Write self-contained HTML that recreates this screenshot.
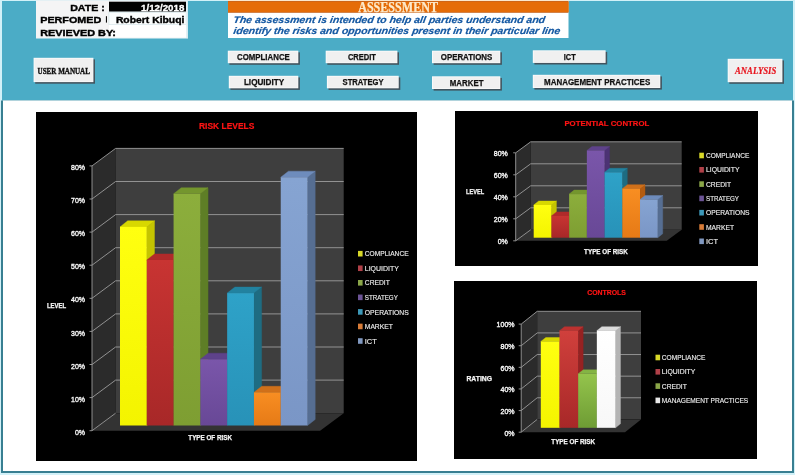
<!DOCTYPE html>
<html><head><meta charset="utf-8"><title>Risk Assessment Dashboard</title>
<style>html,body{margin:0;padding:0;background:#d2f1f8;overflow:hidden}svg{display:block;will-change:transform}</style>
</head><body>
<svg width="795" height="475" viewBox="0 0 795 475">
<rect x="0" y="0" width="795" height="475" fill="#d2f1f8"/>
<rect x="2" y="1" width="791" height="99.5" fill="#4bacc6"/>
<rect x="1" y="100.5" width="793" height="372.5" fill="#387f92"/>
<rect x="3" y="100.5" width="789" height="370.5" fill="#ffffff"/>
<rect x="36" y="0" width="152" height="38.6" fill="#d4ecf2"/>
<rect x="36" y="0.5" width="150.5" height="37.4" fill="#f4f4f5"/>
<rect x="109" y="1.7" width="77" height="10" fill="#000000"/>
<rect x="108.5" y="11.7" width="77.5" height="13.2" fill="#d6e6ea"/>
<rect x="109.3" y="12.6" width="76.5" height="11.6" fill="#fbfdfd"/>
<rect x="109" y="24.9" width="77" height="12.6" fill="#ffffff"/>
<text x="70.2" y="10.9" font-family='"Liberation Sans", sans-serif' font-size="9.5" font-weight="bold" font-style="normal" fill="#000" text-anchor="start" textLength="34.5" lengthAdjust="spacingAndGlyphs" stroke="#000" stroke-width="0.4">DATE :</text>
<text x="184.4" y="10.9" font-family='"Liberation Sans", sans-serif' font-size="9.5" font-weight="bold" font-style="normal" fill="#ffffff" text-anchor="end" textLength="43.4" lengthAdjust="spacingAndGlyphs" stroke="#ffffff" stroke-width="0.3">1/12/2018</text>
<text x="40.2" y="22.8" font-family='"Liberation Sans", sans-serif' font-size="9.5" font-weight="bold" font-style="normal" fill="#000" text-anchor="start" textLength="61.1" lengthAdjust="spacingAndGlyphs" stroke="#000" stroke-width="0.4">PERFOMED</text>
<rect x="105.9" y="16.2" width="1.1" height="6.4" fill="#111"/>
<text x="184.4" y="22.6" font-family='"Liberation Sans", sans-serif' font-size="9.5" font-weight="bold" font-style="normal" fill="#000" text-anchor="end" textLength="68.5" lengthAdjust="spacingAndGlyphs" stroke="#000" stroke-width="0.4">Robert Kibuqi</text>
<text x="40.2" y="35.8" font-family='"Liberation Sans", sans-serif' font-size="9.5" font-weight="bold" font-style="normal" fill="#000" text-anchor="start" textLength="75.8" lengthAdjust="spacingAndGlyphs" stroke="#000" stroke-width="0.4">REVIEVED BY:</text>
<rect x="228" y="0" width="340.5" height="1.2" fill="#fbe2c2"/>
<rect x="228" y="0.8" width="340.5" height="37.2" fill="#ffffff"/>
<rect x="228" y="1" width="340.5" height="11.8" fill="#c8641c"/>
<rect x="228" y="1.8" width="340.5" height="10.2" fill="#e56c08"/>
<text x="358.2" y="11.7" font-family='"Liberation Serif", serif' font-size="13.6" font-weight="bold" font-style="normal" fill="#fdeacb" text-anchor="start" textLength="79.8" lengthAdjust="spacingAndGlyphs" stroke="#fdeacb" stroke-width="0.25">ASSESSMENT</text>
<g transform="translate(0,23.3) skewX(-9) translate(0,-23.3)">
<text x="233.0" y="23.3" font-family='"Liberation Sans", sans-serif' font-size="9.6" font-weight="bold" font-style="italic" fill="#1559a3" text-anchor="start" textLength="311.8" lengthAdjust="spacingAndGlyphs" stroke="#1559a3" stroke-width="0.2">The assessment is intended to help all parties understand and</text>
</g>
<g transform="translate(0,34) skewX(-9) translate(0,-34)">
<text x="233.1" y="34" font-family='"Liberation Sans", sans-serif' font-size="9.6" font-weight="bold" font-style="italic" fill="#1559a3" text-anchor="start" textLength="326.7" lengthAdjust="spacingAndGlyphs" stroke="#1559a3" stroke-width="0.2">identify the risks and opportunities present in their particular line</text>
</g>
<rect x="35.2" y="59.4" width="59.8" height="24.300000000000004" fill="#42545e"/>
<rect x="33.6" y="57.8" width="59.8" height="24.300000000000004" fill="#fafafa"/>
<rect x="34.5" y="58.699999999999996" width="58.199999999999996" height="22.700000000000006" fill="#f0f0f0"/>
<text x="37.6" y="74" font-family='"Liberation Serif", serif' font-size="8" font-weight="bold" font-style="normal" fill="#111" text-anchor="start" textLength="52.3" lengthAdjust="spacingAndGlyphs" stroke="#111" stroke-width="0.35">USER MANUAL</text>
<rect x="229.4" y="52.300000000000004" width="70.49999999999997" height="12.499999999999995" fill="#42545e"/>
<rect x="227.8" y="50.7" width="70.49999999999997" height="12.499999999999995" fill="#fafafa"/>
<rect x="228.70000000000002" y="51.6" width="68.89999999999996" height="10.899999999999995" fill="#f0f0f0"/>
<text x="237" y="59.8" font-family='"Liberation Sans", sans-serif' font-size="8.6" font-weight="bold" font-style="normal" fill="#111" text-anchor="start" textLength="52.8" lengthAdjust="spacingAndGlyphs" stroke="#111" stroke-width="0.25">COMPLIANCE</text>
<rect x="327.3" y="52.300000000000004" width="71.70000000000002" height="12.499999999999995" fill="#42545e"/>
<rect x="325.7" y="50.7" width="71.70000000000002" height="12.499999999999995" fill="#fafafa"/>
<rect x="326.59999999999997" y="51.6" width="70.10000000000001" height="10.899999999999995" fill="#f0f0f0"/>
<text x="347.9" y="59.8" font-family='"Liberation Sans", sans-serif' font-size="8.6" font-weight="bold" font-style="normal" fill="#111" text-anchor="start" textLength="28.1" lengthAdjust="spacingAndGlyphs" stroke="#111" stroke-width="0.25">CREDIT</text>
<rect x="433.6" y="52.300000000000004" width="68.29999999999998" height="12.499999999999995" fill="#42545e"/>
<rect x="432" y="50.7" width="68.29999999999998" height="12.499999999999995" fill="#fafafa"/>
<rect x="432.9" y="51.6" width="66.69999999999997" height="10.899999999999995" fill="#f0f0f0"/>
<text x="440.8" y="59.8" font-family='"Liberation Sans", sans-serif' font-size="8.6" font-weight="bold" font-style="normal" fill="#111" text-anchor="start" textLength="51.5" lengthAdjust="spacingAndGlyphs" stroke="#111" stroke-width="0.25">OPERATIONS</text>
<rect x="534.4" y="51.9" width="72.79999999999998" height="12.600000000000003" fill="#42545e"/>
<rect x="532.8" y="50.3" width="72.79999999999998" height="12.600000000000003" fill="#fafafa"/>
<rect x="533.6999999999999" y="51.199999999999996" width="71.19999999999997" height="11.000000000000004" fill="#f0f0f0"/>
<text x="563.8" y="59.6" font-family='"Liberation Sans", sans-serif' font-size="8.6" font-weight="bold" font-style="normal" fill="#111" text-anchor="start" textLength="11.9" lengthAdjust="spacingAndGlyphs" stroke="#111" stroke-width="0.25">ICT</text>
<rect x="230.4" y="77.39999999999999" width="69.49999999999997" height="12.499999999999995" fill="#42545e"/>
<rect x="228.8" y="75.8" width="69.49999999999997" height="12.499999999999995" fill="#fafafa"/>
<rect x="229.70000000000002" y="76.7" width="67.89999999999996" height="10.899999999999995" fill="#f0f0f0"/>
<text x="243.9" y="85" font-family='"Liberation Sans", sans-serif' font-size="8.6" font-weight="bold" font-style="normal" fill="#111" text-anchor="start" textLength="40.3" lengthAdjust="spacingAndGlyphs" stroke="#111" stroke-width="0.25">LIQUIDITY</text>
<rect x="328.5" y="77.39999999999999" width="71.79999999999998" height="12.499999999999995" fill="#42545e"/>
<rect x="326.9" y="75.8" width="71.79999999999998" height="12.499999999999995" fill="#fafafa"/>
<rect x="327.79999999999995" y="76.7" width="70.19999999999997" height="10.899999999999995" fill="#f0f0f0"/>
<text x="342.6" y="85" font-family='"Liberation Sans", sans-serif' font-size="8.6" font-weight="bold" font-style="normal" fill="#111" text-anchor="start" textLength="40.9" lengthAdjust="spacingAndGlyphs" stroke="#111" stroke-width="0.25">STRATEGY</text>
<rect x="433.6" y="77.89999999999999" width="68.29999999999998" height="12.699999999999998" fill="#42545e"/>
<rect x="432" y="76.3" width="68.29999999999998" height="12.699999999999998" fill="#fafafa"/>
<rect x="432.9" y="77.2" width="66.69999999999997" height="11.099999999999998" fill="#f0f0f0"/>
<text x="449.8" y="85.8" font-family='"Liberation Sans", sans-serif' font-size="8.6" font-weight="bold" font-style="normal" fill="#111" text-anchor="start" textLength="33.7" lengthAdjust="spacingAndGlyphs" stroke="#111" stroke-width="0.25">MARKET</text>
<rect x="534.4" y="76.39999999999999" width="127.50000000000003" height="13.199999999999998" fill="#42545e"/>
<rect x="532.8" y="74.8" width="127.50000000000003" height="13.199999999999998" fill="#fafafa"/>
<rect x="533.6999999999999" y="75.7" width="125.90000000000002" height="11.599999999999998" fill="#f0f0f0"/>
<text x="544" y="84.6" font-family='"Liberation Sans", sans-serif' font-size="8.6" font-weight="bold" font-style="normal" fill="#111" text-anchor="start" textLength="106.2" lengthAdjust="spacingAndGlyphs" stroke="#111" stroke-width="0.25">MANAGEMENT PRACTICES</text>
<rect x="729.3000000000001" y="60.4" width="54.69999999999995" height="23.4" fill="#42545e"/>
<rect x="727.7" y="58.8" width="54.69999999999995" height="23.4" fill="#fafafa"/>
<rect x="728.6" y="59.699999999999996" width="53.09999999999995" height="21.8" fill="#f0f0f0"/>
<text x="735" y="73.8" font-family='"Liberation Serif", serif' font-size="10" font-weight="bold" font-style="italic" fill="#e8141e" text-anchor="start" textLength="41.3" lengthAdjust="spacingAndGlyphs" stroke="#e8141e" stroke-width="0.2">ANALYSIS</text>
<defs><linearGradient id="g_yellow" x1="0" y1="0" x2="0" y2="1"><stop offset="0" stop-color="#ffff10"/><stop offset="1" stop-color="#f4f400"/></linearGradient><linearGradient id="g_red" x1="0" y1="0" x2="0" y2="1"><stop offset="0" stop-color="#c83432"/><stop offset="1" stop-color="#a82828"/></linearGradient><linearGradient id="g_green" x1="0" y1="0" x2="0" y2="1"><stop offset="0" stop-color="#8cae3c"/><stop offset="1" stop-color="#7e9e32"/></linearGradient><linearGradient id="g_purple" x1="0" y1="0" x2="0" y2="1"><stop offset="0" stop-color="#7a56aa"/><stop offset="1" stop-color="#684896"/></linearGradient><linearGradient id="g_blue" x1="0" y1="0" x2="0" y2="1"><stop offset="0" stop-color="#2ea2c8"/><stop offset="1" stop-color="#2892b8"/></linearGradient><linearGradient id="g_orange" x1="0" y1="0" x2="0" y2="1"><stop offset="0" stop-color="#f88e22"/><stop offset="1" stop-color="#e67a16"/></linearGradient><linearGradient id="g_lblue" x1="0" y1="0" x2="0" y2="1"><stop offset="0" stop-color="#86a4d2"/><stop offset="1" stop-color="#7a96c6"/></linearGradient><linearGradient id="g_white" x1="0" y1="0" x2="0" y2="1"><stop offset="0" stop-color="#ffffff"/><stop offset="1" stop-color="#f8f8f8"/></linearGradient><linearGradient id="g_red2" x1="0" y1="0" x2="0" y2="1"><stop offset="0" stop-color="#d0403c"/><stop offset="1" stop-color="#a82828"/></linearGradient><linearGradient id="g_green2" x1="0" y1="0" x2="0" y2="1"><stop offset="0" stop-color="#94c44c"/><stop offset="1" stop-color="#6e9c34"/></linearGradient></defs>
<rect x="36" y="112" width="381" height="349" fill="#000000"/>
<polygon points="92.00,165.90 115.60,148.40 115.60,413.20 92.00,430.70" fill="#2b2b2b"/>
<rect x="115.6" y="148.39999999999998" width="228.1" height="264.8" fill="#3e3e3e"/>
<polygon points="92.00,430.70 320.10,430.70 343.70,413.20 115.60,413.20" fill="#333333"/>
<line x1="115.60" y1="148.40" x2="343.70" y2="148.40" stroke="#9c9c9c" stroke-width="0.9"/>
<line x1="92.00" y1="165.90" x2="115.60" y2="148.40" stroke="#9c9c9c" stroke-width="0.9"/>
<line x1="115.60" y1="181.50" x2="343.70" y2="181.50" stroke="#9c9c9c" stroke-width="0.9"/>
<line x1="92.00" y1="199.00" x2="115.60" y2="181.50" stroke="#9c9c9c" stroke-width="0.9"/>
<line x1="115.60" y1="214.60" x2="343.70" y2="214.60" stroke="#9c9c9c" stroke-width="0.9"/>
<line x1="92.00" y1="232.10" x2="115.60" y2="214.60" stroke="#9c9c9c" stroke-width="0.9"/>
<line x1="115.60" y1="247.70" x2="343.70" y2="247.70" stroke="#9c9c9c" stroke-width="0.9"/>
<line x1="92.00" y1="265.20" x2="115.60" y2="247.70" stroke="#9c9c9c" stroke-width="0.9"/>
<line x1="115.60" y1="280.80" x2="343.70" y2="280.80" stroke="#9c9c9c" stroke-width="0.9"/>
<line x1="92.00" y1="298.30" x2="115.60" y2="280.80" stroke="#9c9c9c" stroke-width="0.9"/>
<line x1="115.60" y1="313.90" x2="343.70" y2="313.90" stroke="#9c9c9c" stroke-width="0.9"/>
<line x1="92.00" y1="331.40" x2="115.60" y2="313.90" stroke="#9c9c9c" stroke-width="0.9"/>
<line x1="115.60" y1="347.00" x2="343.70" y2="347.00" stroke="#9c9c9c" stroke-width="0.9"/>
<line x1="92.00" y1="364.50" x2="115.60" y2="347.00" stroke="#9c9c9c" stroke-width="0.9"/>
<line x1="115.60" y1="380.10" x2="343.70" y2="380.10" stroke="#9c9c9c" stroke-width="0.9"/>
<line x1="92.00" y1="397.60" x2="115.60" y2="380.10" stroke="#9c9c9c" stroke-width="0.9"/>
<line x1="92.00" y1="430.70" x2="115.60" y2="413.20" stroke="#9c9c9c" stroke-width="0.9"/>
<line x1="92.00" y1="165.90" x2="92.00" y2="430.70" stroke="#9c9c9c" stroke-width="0.9"/>
<line x1="89.50" y1="165.90" x2="92.00" y2="165.90" stroke="#9c9c9c" stroke-width="0.9"/>
<line x1="89.50" y1="199.00" x2="92.00" y2="199.00" stroke="#9c9c9c" stroke-width="0.9"/>
<line x1="89.50" y1="232.10" x2="92.00" y2="232.10" stroke="#9c9c9c" stroke-width="0.9"/>
<line x1="89.50" y1="265.20" x2="92.00" y2="265.20" stroke="#9c9c9c" stroke-width="0.9"/>
<line x1="89.50" y1="298.30" x2="92.00" y2="298.30" stroke="#9c9c9c" stroke-width="0.9"/>
<line x1="89.50" y1="331.40" x2="92.00" y2="331.40" stroke="#9c9c9c" stroke-width="0.9"/>
<line x1="89.50" y1="364.50" x2="92.00" y2="364.50" stroke="#9c9c9c" stroke-width="0.9"/>
<line x1="89.50" y1="397.60" x2="92.00" y2="397.60" stroke="#9c9c9c" stroke-width="0.9"/>
<line x1="89.50" y1="430.70" x2="92.00" y2="430.70" stroke="#9c9c9c" stroke-width="0.9"/>
<polygon points="146.79,226.90 154.49,220.80 154.49,419.40 146.79,425.50" fill="#c4c400" stroke="#c4c400" stroke-width="0.4"/>
<polygon points="120.00,226.90 127.70,220.80 154.49,220.80 146.79,226.90" fill="#d8d800" stroke="#d8d800" stroke-width="0.4"/>
<rect x="120.0" y="226.9" width="26.79" height="198.6" fill="url(#g_yellow)"/>
<polygon points="173.58,260.00 181.28,253.90 181.28,419.40 173.58,425.50" fill="#861c1c" stroke="#861c1c" stroke-width="0.4"/>
<polygon points="146.79,260.00 154.49,253.90 181.28,253.90 173.58,260.00" fill="#b02a2a" stroke="#b02a2a" stroke-width="0.4"/>
<rect x="146.79" y="260.0" width="26.79" height="165.5" fill="url(#g_red)"/>
<polygon points="200.37,193.80 208.07,187.70 208.07,419.40 200.37,425.50" fill="#5e7e26" stroke="#5e7e26" stroke-width="0.4"/>
<polygon points="173.58,193.80 181.28,187.70 208.07,187.70 200.37,193.80" fill="#74962e" stroke="#74962e" stroke-width="0.4"/>
<rect x="173.57999999999998" y="193.8" width="26.79" height="231.7" fill="url(#g_green)"/>
<polygon points="227.16,359.30 234.86,353.20 234.86,419.40 227.16,425.50" fill="#4c3274" stroke="#4c3274" stroke-width="0.4"/>
<polygon points="200.37,359.30 208.07,353.20 234.86,353.20 227.16,359.30" fill="#5e428a" stroke="#5e428a" stroke-width="0.4"/>
<rect x="200.37" y="359.3" width="26.79" height="66.19999999999999" fill="url(#g_purple)"/>
<polygon points="253.95,293.10 261.65,287.00 261.65,419.40 253.95,425.50" fill="#1e6c82" stroke="#1e6c82" stroke-width="0.4"/>
<polygon points="227.16,293.10 234.86,287.00 261.65,287.00 253.95,293.10" fill="#2282a0" stroke="#2282a0" stroke-width="0.4"/>
<rect x="227.16" y="293.1" width="26.79" height="132.39999999999998" fill="url(#g_blue)"/>
<polygon points="280.74,392.40 288.44,386.30 288.44,419.40 280.74,425.50" fill="#b45c10" stroke="#b45c10" stroke-width="0.4"/>
<polygon points="253.95,392.40 261.65,386.30 288.44,386.30 280.74,392.40" fill="#d0701a" stroke="#d0701a" stroke-width="0.4"/>
<rect x="253.95" y="392.4" width="26.79" height="33.10000000000002" fill="url(#g_orange)"/>
<polygon points="307.53,177.25 315.23,171.15 315.23,419.40 307.53,425.50" fill="#566e92" stroke="#566e92" stroke-width="0.4"/>
<polygon points="280.74,177.25 288.44,171.15 315.23,171.15 307.53,177.25" fill="#6e8cbc" stroke="#6e8cbc" stroke-width="0.4"/>
<rect x="280.74" y="177.25" width="26.79" height="248.25" fill="url(#g_lblue)"/>
<text x="85" y="169.99999999999997" font-family='"Liberation Sans", sans-serif' font-size="7" font-weight="normal" font-style="normal" fill="#f4f4f4" text-anchor="end" stroke="#f4f4f4" stroke-width="0.35">80%</text>
<text x="85" y="203.09999999999997" font-family='"Liberation Sans", sans-serif' font-size="7" font-weight="normal" font-style="normal" fill="#f4f4f4" text-anchor="end" stroke="#f4f4f4" stroke-width="0.35">70%</text>
<text x="85" y="236.19999999999996" font-family='"Liberation Sans", sans-serif' font-size="7" font-weight="normal" font-style="normal" fill="#f4f4f4" text-anchor="end" stroke="#f4f4f4" stroke-width="0.35">60%</text>
<text x="85" y="269.3" font-family='"Liberation Sans", sans-serif' font-size="7" font-weight="normal" font-style="normal" fill="#f4f4f4" text-anchor="end" stroke="#f4f4f4" stroke-width="0.35">50%</text>
<text x="85" y="302.4" font-family='"Liberation Sans", sans-serif' font-size="7" font-weight="normal" font-style="normal" fill="#f4f4f4" text-anchor="end" stroke="#f4f4f4" stroke-width="0.35">40%</text>
<text x="85" y="335.5" font-family='"Liberation Sans", sans-serif' font-size="7" font-weight="normal" font-style="normal" fill="#f4f4f4" text-anchor="end" stroke="#f4f4f4" stroke-width="0.35">30%</text>
<text x="85" y="368.6" font-family='"Liberation Sans", sans-serif' font-size="7" font-weight="normal" font-style="normal" fill="#f4f4f4" text-anchor="end" stroke="#f4f4f4" stroke-width="0.35">20%</text>
<text x="85" y="401.70000000000005" font-family='"Liberation Sans", sans-serif' font-size="7" font-weight="normal" font-style="normal" fill="#f4f4f4" text-anchor="end" stroke="#f4f4f4" stroke-width="0.35">10%</text>
<text x="85" y="434.8" font-family='"Liberation Sans", sans-serif' font-size="7" font-weight="normal" font-style="normal" fill="#f4f4f4" text-anchor="end" stroke="#f4f4f4" stroke-width="0.35">0%</text>
<text x="199" y="128.6" font-family='"Liberation Sans", sans-serif' font-size="8.5" font-weight="bold" font-style="normal" fill="#ff1414" text-anchor="start" textLength="55.4" lengthAdjust="spacingAndGlyphs" stroke="#ff1414" stroke-width="0.2">RISK LEVELS</text>
<rect x="358" y="250.9" width="4.6" height="5.6" fill="#d8d828"/>
<text x="364.8" y="256.3" font-family='"Liberation Sans", sans-serif' font-size="7.6" font-weight="normal" font-style="normal" fill="#ececec" text-anchor="start" textLength="43.8" lengthAdjust="spacingAndGlyphs" stroke="#ececec" stroke-width="0.15">COMPLIANCE</text>
<rect x="358" y="265.45" width="4.6" height="5.6" fill="#b04048"/>
<text x="364.8" y="270.84999999999997" font-family='"Liberation Sans", sans-serif' font-size="7.6" font-weight="normal" font-style="normal" fill="#ececec" text-anchor="start" textLength="34" lengthAdjust="spacingAndGlyphs" stroke="#ececec" stroke-width="0.15">LIQUIDITY</text>
<rect x="358" y="280.0" width="4.6" height="5.6" fill="#8aa648"/>
<text x="364.8" y="285.4" font-family='"Liberation Sans", sans-serif' font-size="7.6" font-weight="normal" font-style="normal" fill="#ececec" text-anchor="start" textLength="25" lengthAdjust="spacingAndGlyphs" stroke="#ececec" stroke-width="0.15">CREDIT</text>
<rect x="358" y="294.55" width="4.6" height="5.6" fill="#6c5496"/>
<text x="364.8" y="299.95" font-family='"Liberation Sans", sans-serif' font-size="7.6" font-weight="normal" font-style="normal" fill="#ececec" text-anchor="start" textLength="33" lengthAdjust="spacingAndGlyphs" stroke="#ececec" stroke-width="0.15">STRATEGY</text>
<rect x="358" y="309.1" width="4.6" height="5.6" fill="#3c98b8"/>
<text x="364.8" y="314.5" font-family='"Liberation Sans", sans-serif' font-size="7.6" font-weight="normal" font-style="normal" fill="#ececec" text-anchor="start" textLength="44" lengthAdjust="spacingAndGlyphs" stroke="#ececec" stroke-width="0.15">OPERATIONS</text>
<rect x="358" y="323.65000000000003" width="4.6" height="5.6" fill="#d87c38"/>
<text x="364.8" y="329.05" font-family='"Liberation Sans", sans-serif' font-size="7.6" font-weight="normal" font-style="normal" fill="#ececec" text-anchor="start" textLength="28" lengthAdjust="spacingAndGlyphs" stroke="#ececec" stroke-width="0.15">MARKET</text>
<rect x="358" y="338.2" width="4.6" height="5.6" fill="#8098c0"/>
<text x="364.8" y="343.59999999999997" font-family='"Liberation Sans", sans-serif' font-size="7.6" font-weight="normal" font-style="normal" fill="#ececec" text-anchor="start" textLength="12" lengthAdjust="spacingAndGlyphs" stroke="#ececec" stroke-width="0.15">ICT</text>
<text x="46.9" y="308" font-family='"Liberation Sans", sans-serif' font-size="6.5" font-weight="bold" font-style="normal" fill="#f4f4f4" text-anchor="start" textLength="19.3" lengthAdjust="spacingAndGlyphs" stroke="#f4f4f4" stroke-width="0.25">LEVEL</text>
<text x="188.3" y="439.7" font-family='"Liberation Sans", sans-serif' font-size="6.5" font-weight="bold" font-style="normal" fill="#f4f4f4" text-anchor="start" textLength="43.7" lengthAdjust="spacingAndGlyphs" stroke="#f4f4f4" stroke-width="0.25">TYPE OF RISK</text>
<rect x="455" y="111" width="303" height="155" fill="#000000"/>
<polygon points="515.70,152.80 530.70,141.80 530.70,229.80 515.70,240.80" fill="#2b2b2b"/>
<rect x="530.7" y="141.8" width="151.0" height="88.0" fill="#3e3e3e"/>
<polygon points="515.70,240.80 666.70,240.80 681.70,229.80 530.70,229.80" fill="#333333"/>
<line x1="530.70" y1="141.80" x2="681.70" y2="141.80" stroke="#9c9c9c" stroke-width="0.9"/>
<line x1="515.70" y1="152.80" x2="530.70" y2="141.80" stroke="#9c9c9c" stroke-width="0.9"/>
<line x1="530.70" y1="163.80" x2="681.70" y2="163.80" stroke="#9c9c9c" stroke-width="0.9"/>
<line x1="515.70" y1="174.80" x2="530.70" y2="163.80" stroke="#9c9c9c" stroke-width="0.9"/>
<line x1="530.70" y1="185.80" x2="681.70" y2="185.80" stroke="#9c9c9c" stroke-width="0.9"/>
<line x1="515.70" y1="196.80" x2="530.70" y2="185.80" stroke="#9c9c9c" stroke-width="0.9"/>
<line x1="530.70" y1="207.80" x2="681.70" y2="207.80" stroke="#9c9c9c" stroke-width="0.9"/>
<line x1="515.70" y1="218.80" x2="530.70" y2="207.80" stroke="#9c9c9c" stroke-width="0.9"/>
<line x1="515.70" y1="240.80" x2="530.70" y2="229.80" stroke="#9c9c9c" stroke-width="0.9"/>
<line x1="515.70" y1="152.80" x2="515.70" y2="240.80" stroke="#9c9c9c" stroke-width="0.9"/>
<line x1="513.20" y1="152.80" x2="515.70" y2="152.80" stroke="#9c9c9c" stroke-width="0.9"/>
<line x1="513.20" y1="174.80" x2="515.70" y2="174.80" stroke="#9c9c9c" stroke-width="0.9"/>
<line x1="513.20" y1="196.80" x2="515.70" y2="196.80" stroke="#9c9c9c" stroke-width="0.9"/>
<line x1="513.20" y1="218.80" x2="515.70" y2="218.80" stroke="#9c9c9c" stroke-width="0.9"/>
<line x1="513.20" y1="240.80" x2="515.70" y2="240.80" stroke="#9c9c9c" stroke-width="0.9"/>
<polygon points="551.42,205.00 556.42,201.00 556.42,233.70 551.42,237.70" fill="#c4c400" stroke="#c4c400" stroke-width="0.4"/>
<polygon points="533.70,205.00 538.70,201.00 556.42,201.00 551.42,205.00" fill="#d8d800" stroke="#d8d800" stroke-width="0.4"/>
<rect x="533.7" y="205.0" width="17.72" height="32.69999999999999" fill="url(#g_yellow)"/>
<polygon points="569.14,215.90 574.14,211.90 574.14,233.70 569.14,237.70" fill="#861c1c" stroke="#861c1c" stroke-width="0.4"/>
<polygon points="551.42,215.90 556.42,211.90 574.14,211.90 569.14,215.90" fill="#b02a2a" stroke="#b02a2a" stroke-width="0.4"/>
<rect x="551.4200000000001" y="215.89999999999998" width="17.72" height="21.80000000000001" fill="url(#g_red)"/>
<polygon points="586.86,194.10 591.86,190.10 591.86,233.70 586.86,237.70" fill="#5e7e26" stroke="#5e7e26" stroke-width="0.4"/>
<polygon points="569.14,194.10 574.14,190.10 591.86,190.10 586.86,194.10" fill="#74962e" stroke="#74962e" stroke-width="0.4"/>
<rect x="569.1400000000001" y="194.1" width="17.72" height="43.599999999999994" fill="url(#g_green)"/>
<polygon points="604.58,150.50 609.58,146.50 609.58,233.70 604.58,237.70" fill="#4c3274" stroke="#4c3274" stroke-width="0.4"/>
<polygon points="586.86,150.50 591.86,146.50 609.58,146.50 604.58,150.50" fill="#5e428a" stroke="#5e428a" stroke-width="0.4"/>
<rect x="586.86" y="150.5" width="17.72" height="87.19999999999999" fill="url(#g_purple)"/>
<polygon points="622.30,172.30 627.30,168.30 627.30,233.70 622.30,237.70" fill="#1e6c82" stroke="#1e6c82" stroke-width="0.4"/>
<polygon points="604.58,172.30 609.58,168.30 627.30,168.30 622.30,172.30" fill="#2282a0" stroke="#2282a0" stroke-width="0.4"/>
<rect x="604.58" y="172.3" width="17.72" height="65.39999999999998" fill="url(#g_blue)"/>
<polygon points="640.02,188.65 645.02,184.65 645.02,233.70 640.02,237.70" fill="#b45c10" stroke="#b45c10" stroke-width="0.4"/>
<polygon points="622.30,188.65 627.30,184.65 645.02,184.65 640.02,188.65" fill="#d0701a" stroke="#d0701a" stroke-width="0.4"/>
<rect x="622.3000000000001" y="188.64999999999998" width="17.72" height="49.05000000000001" fill="url(#g_orange)"/>
<polygon points="657.74,199.55 662.74,195.55 662.74,233.70 657.74,237.70" fill="#566e92" stroke="#566e92" stroke-width="0.4"/>
<polygon points="640.02,199.55 645.02,195.55 662.74,195.55 657.74,199.55" fill="#6e8cbc" stroke="#6e8cbc" stroke-width="0.4"/>
<rect x="640.02" y="199.54999999999998" width="17.72" height="38.150000000000006" fill="url(#g_lblue)"/>
<text x="507.8" y="156.4" font-family='"Liberation Sans", sans-serif' font-size="7" font-weight="normal" font-style="normal" fill="#f4f4f4" text-anchor="end" stroke="#f4f4f4" stroke-width="0.35">80%</text>
<text x="507.8" y="178.4" font-family='"Liberation Sans", sans-serif' font-size="7" font-weight="normal" font-style="normal" fill="#f4f4f4" text-anchor="end" stroke="#f4f4f4" stroke-width="0.35">60%</text>
<text x="507.8" y="200.4" font-family='"Liberation Sans", sans-serif' font-size="7" font-weight="normal" font-style="normal" fill="#f4f4f4" text-anchor="end" stroke="#f4f4f4" stroke-width="0.35">40%</text>
<text x="507.8" y="222.4" font-family='"Liberation Sans", sans-serif' font-size="7" font-weight="normal" font-style="normal" fill="#f4f4f4" text-anchor="end" stroke="#f4f4f4" stroke-width="0.35">20%</text>
<text x="507.8" y="244.4" font-family='"Liberation Sans", sans-serif' font-size="7" font-weight="normal" font-style="normal" fill="#f4f4f4" text-anchor="end" stroke="#f4f4f4" stroke-width="0.35">0%</text>
<text x="564.4" y="125.8" font-family='"Liberation Sans", sans-serif' font-size="7.5" font-weight="bold" font-style="normal" fill="#ff1414" text-anchor="start" textLength="84.9" lengthAdjust="spacingAndGlyphs" stroke="#ff1414" stroke-width="0.2">POTENTIAL CONTROL</text>
<rect x="699.3" y="152.70000000000002" width="4.6" height="5.6" fill="#d8d828"/>
<text x="706" y="158.1" font-family='"Liberation Sans", sans-serif' font-size="7.6" font-weight="normal" font-style="normal" fill="#ececec" text-anchor="start" textLength="43.3" lengthAdjust="spacingAndGlyphs" stroke="#ececec" stroke-width="0.15">COMPLIANCE</text>
<rect x="699.3" y="167.00000000000003" width="4.6" height="5.6" fill="#b04048"/>
<text x="706" y="172.4" font-family='"Liberation Sans", sans-serif' font-size="7.6" font-weight="normal" font-style="normal" fill="#ececec" text-anchor="start" textLength="33.5" lengthAdjust="spacingAndGlyphs" stroke="#ececec" stroke-width="0.15">LIQUIDITY</text>
<rect x="699.3" y="181.3" width="4.6" height="5.6" fill="#8aa648"/>
<text x="706" y="186.7" font-family='"Liberation Sans", sans-serif' font-size="7.6" font-weight="normal" font-style="normal" fill="#ececec" text-anchor="start" textLength="25" lengthAdjust="spacingAndGlyphs" stroke="#ececec" stroke-width="0.15">CREDIT</text>
<rect x="699.3" y="195.60000000000002" width="4.6" height="5.6" fill="#6c5496"/>
<text x="706" y="201.0" font-family='"Liberation Sans", sans-serif' font-size="7.6" font-weight="normal" font-style="normal" fill="#ececec" text-anchor="start" textLength="33" lengthAdjust="spacingAndGlyphs" stroke="#ececec" stroke-width="0.15">STRATEGY</text>
<rect x="699.3" y="209.90000000000003" width="4.6" height="5.6" fill="#3c98b8"/>
<text x="706" y="215.3" font-family='"Liberation Sans", sans-serif' font-size="7.6" font-weight="normal" font-style="normal" fill="#ececec" text-anchor="start" textLength="43.5" lengthAdjust="spacingAndGlyphs" stroke="#ececec" stroke-width="0.15">OPERATIONS</text>
<rect x="699.3" y="224.20000000000002" width="4.6" height="5.6" fill="#d87c38"/>
<text x="706" y="229.6" font-family='"Liberation Sans", sans-serif' font-size="7.6" font-weight="normal" font-style="normal" fill="#ececec" text-anchor="start" textLength="28" lengthAdjust="spacingAndGlyphs" stroke="#ececec" stroke-width="0.15">MARKET</text>
<rect x="699.3" y="238.50000000000003" width="4.6" height="5.6" fill="#8098c0"/>
<text x="706" y="243.9" font-family='"Liberation Sans", sans-serif' font-size="7.6" font-weight="normal" font-style="normal" fill="#ececec" text-anchor="start" textLength="12" lengthAdjust="spacingAndGlyphs" stroke="#ececec" stroke-width="0.15">ICT</text>
<text x="466.1" y="193.8" font-family='"Liberation Sans", sans-serif' font-size="6.5" font-weight="bold" font-style="normal" fill="#f4f4f4" text-anchor="start" textLength="18.1" lengthAdjust="spacingAndGlyphs" stroke="#f4f4f4" stroke-width="0.25">LEVEL</text>
<text x="584.1" y="253.9" font-family='"Liberation Sans", sans-serif' font-size="6.5" font-weight="bold" font-style="normal" fill="#f4f4f4" text-anchor="start" textLength="43.7" lengthAdjust="spacingAndGlyphs" stroke="#f4f4f4" stroke-width="0.25">TYPE OF RISK</text>
<rect x="454" y="281" width="303" height="178" fill="#000000"/>
<polygon points="521.20,324.10 537.20,311.30 537.20,419.40 521.20,432.20" fill="#2b2b2b"/>
<rect x="537.2" y="311.29999999999995" width="103.79999999999995" height="108.10000000000002" fill="#3e3e3e"/>
<polygon points="521.20,432.20 625.00,432.20 641.00,419.40 537.20,419.40" fill="#333333"/>
<line x1="537.20" y1="311.30" x2="641.00" y2="311.30" stroke="#9c9c9c" stroke-width="0.9"/>
<line x1="521.20" y1="324.10" x2="537.20" y2="311.30" stroke="#9c9c9c" stroke-width="0.9"/>
<line x1="537.20" y1="332.92" x2="641.00" y2="332.92" stroke="#9c9c9c" stroke-width="0.9"/>
<line x1="521.20" y1="345.72" x2="537.20" y2="332.92" stroke="#9c9c9c" stroke-width="0.9"/>
<line x1="537.20" y1="354.54" x2="641.00" y2="354.54" stroke="#9c9c9c" stroke-width="0.9"/>
<line x1="521.20" y1="367.34" x2="537.20" y2="354.54" stroke="#9c9c9c" stroke-width="0.9"/>
<line x1="537.20" y1="376.16" x2="641.00" y2="376.16" stroke="#9c9c9c" stroke-width="0.9"/>
<line x1="521.20" y1="388.96" x2="537.20" y2="376.16" stroke="#9c9c9c" stroke-width="0.9"/>
<line x1="537.20" y1="397.78" x2="641.00" y2="397.78" stroke="#9c9c9c" stroke-width="0.9"/>
<line x1="521.20" y1="410.58" x2="537.20" y2="397.78" stroke="#9c9c9c" stroke-width="0.9"/>
<line x1="521.20" y1="432.20" x2="537.20" y2="419.40" stroke="#9c9c9c" stroke-width="0.9"/>
<line x1="521.20" y1="324.10" x2="521.20" y2="432.20" stroke="#9c9c9c" stroke-width="0.9"/>
<line x1="518.70" y1="324.10" x2="521.20" y2="324.10" stroke="#9c9c9c" stroke-width="0.9"/>
<line x1="518.70" y1="345.72" x2="521.20" y2="345.72" stroke="#9c9c9c" stroke-width="0.9"/>
<line x1="518.70" y1="367.34" x2="521.20" y2="367.34" stroke="#9c9c9c" stroke-width="0.9"/>
<line x1="518.70" y1="388.96" x2="521.20" y2="388.96" stroke="#9c9c9c" stroke-width="0.9"/>
<line x1="518.70" y1="410.58" x2="521.20" y2="410.58" stroke="#9c9c9c" stroke-width="0.9"/>
<line x1="518.70" y1="432.20" x2="521.20" y2="432.20" stroke="#9c9c9c" stroke-width="0.9"/>
<polygon points="559.48,341.48 564.48,337.48 564.48,423.80 559.48,427.80" fill="#c4c400" stroke="#c4c400" stroke-width="0.4"/>
<polygon points="540.80,341.48 545.80,337.48 564.48,337.48 559.48,341.48" fill="#d8d800" stroke="#d8d800" stroke-width="0.4"/>
<rect x="540.8" y="341.48" width="18.68" height="86.32" fill="url(#g_yellow)"/>
<polygon points="578.16,330.69 583.16,326.69 583.16,423.80 578.16,427.80" fill="#962222" stroke="#962222" stroke-width="0.4"/>
<polygon points="559.48,330.69 564.48,326.69 583.16,326.69 578.16,330.69" fill="#bc3230" stroke="#bc3230" stroke-width="0.4"/>
<rect x="559.4799999999999" y="330.69" width="18.68" height="97.11000000000001" fill="url(#g_red2)"/>
<polygon points="596.84,373.85 601.84,369.85 601.84,423.80 596.84,427.80" fill="#5c8228" stroke="#5c8228" stroke-width="0.4"/>
<polygon points="578.16,373.85 583.16,369.85 601.84,369.85 596.84,373.85" fill="#84b444" stroke="#84b444" stroke-width="0.4"/>
<rect x="578.16" y="373.85" width="18.68" height="53.94999999999999" fill="url(#g_green2)"/>
<polygon points="615.52,330.69 620.52,326.69 620.52,423.80 615.52,427.80" fill="#b4b4b4" stroke="#b4b4b4" stroke-width="0.4"/>
<polygon points="596.84,330.69 601.84,326.69 620.52,326.69 615.52,330.69" fill="#dcdcdc" stroke="#dcdcdc" stroke-width="0.4"/>
<rect x="596.8399999999999" y="330.69" width="18.68" height="97.11000000000001" fill="url(#g_white)"/>
<text x="514.5" y="327.4" font-family='"Liberation Sans", sans-serif' font-size="7" font-weight="normal" font-style="normal" fill="#f4f4f4" text-anchor="end" stroke="#f4f4f4" stroke-width="0.35">100%</text>
<text x="514.5" y="349.02" font-family='"Liberation Sans", sans-serif' font-size="7" font-weight="normal" font-style="normal" fill="#f4f4f4" text-anchor="end" stroke="#f4f4f4" stroke-width="0.35">80%</text>
<text x="514.5" y="370.64" font-family='"Liberation Sans", sans-serif' font-size="7" font-weight="normal" font-style="normal" fill="#f4f4f4" text-anchor="end" stroke="#f4f4f4" stroke-width="0.35">60%</text>
<text x="514.5" y="392.26" font-family='"Liberation Sans", sans-serif' font-size="7" font-weight="normal" font-style="normal" fill="#f4f4f4" text-anchor="end" stroke="#f4f4f4" stroke-width="0.35">40%</text>
<text x="514.5" y="413.88" font-family='"Liberation Sans", sans-serif' font-size="7" font-weight="normal" font-style="normal" fill="#f4f4f4" text-anchor="end" stroke="#f4f4f4" stroke-width="0.35">20%</text>
<text x="514.5" y="435.5" font-family='"Liberation Sans", sans-serif' font-size="7" font-weight="normal" font-style="normal" fill="#f4f4f4" text-anchor="end" stroke="#f4f4f4" stroke-width="0.35">0%</text>
<text x="587.2" y="294.8" font-family='"Liberation Sans", sans-serif' font-size="7" font-weight="bold" font-style="normal" fill="#ff1414" text-anchor="start" textLength="38.7" lengthAdjust="spacingAndGlyphs" stroke="#ff1414" stroke-width="0.2">CONTROLS</text>
<rect x="655.5" y="354.7" width="4.6" height="5.6" fill="#d8d828"/>
<text x="661.8" y="360.09999999999997" font-family='"Liberation Sans", sans-serif' font-size="7.6" font-weight="normal" font-style="normal" fill="#ececec" text-anchor="start" textLength="43.5" lengthAdjust="spacingAndGlyphs" stroke="#ececec" stroke-width="0.15">COMPLIANCE</text>
<rect x="655.5" y="369.0" width="4.6" height="5.6" fill="#b04048"/>
<text x="661.8" y="374.4" font-family='"Liberation Sans", sans-serif' font-size="7.6" font-weight="normal" font-style="normal" fill="#ececec" text-anchor="start" textLength="33.5" lengthAdjust="spacingAndGlyphs" stroke="#ececec" stroke-width="0.15">LIQUIDITY</text>
<rect x="655.5" y="383.3" width="4.6" height="5.6" fill="#8aa648"/>
<text x="661.8" y="388.7" font-family='"Liberation Sans", sans-serif' font-size="7.6" font-weight="normal" font-style="normal" fill="#ececec" text-anchor="start" textLength="25" lengthAdjust="spacingAndGlyphs" stroke="#ececec" stroke-width="0.15">CREDIT</text>
<rect x="655.5" y="397.59999999999997" width="4.6" height="5.6" fill="#e8e8e8"/>
<text x="661.8" y="402.99999999999994" font-family='"Liberation Sans", sans-serif' font-size="7.6" font-weight="normal" font-style="normal" fill="#ececec" text-anchor="start" textLength="86.4" lengthAdjust="spacingAndGlyphs" stroke="#ececec" stroke-width="0.15">MANAGEMENT PRACTICES</text>
<text x="466.4" y="381.2" font-family='"Liberation Sans", sans-serif' font-size="6.5" font-weight="bold" font-style="normal" fill="#f4f4f4" text-anchor="start" textLength="25.6" lengthAdjust="spacingAndGlyphs" stroke="#f4f4f4" stroke-width="0.25">RATING</text>
<text x="551.3" y="443.9" font-family='"Liberation Sans", sans-serif' font-size="6.5" font-weight="bold" font-style="normal" fill="#f4f4f4" text-anchor="start" textLength="43.8" lengthAdjust="spacingAndGlyphs" stroke="#f4f4f4" stroke-width="0.25">TYPE OF RISK</text>
</svg>
</body></html>
